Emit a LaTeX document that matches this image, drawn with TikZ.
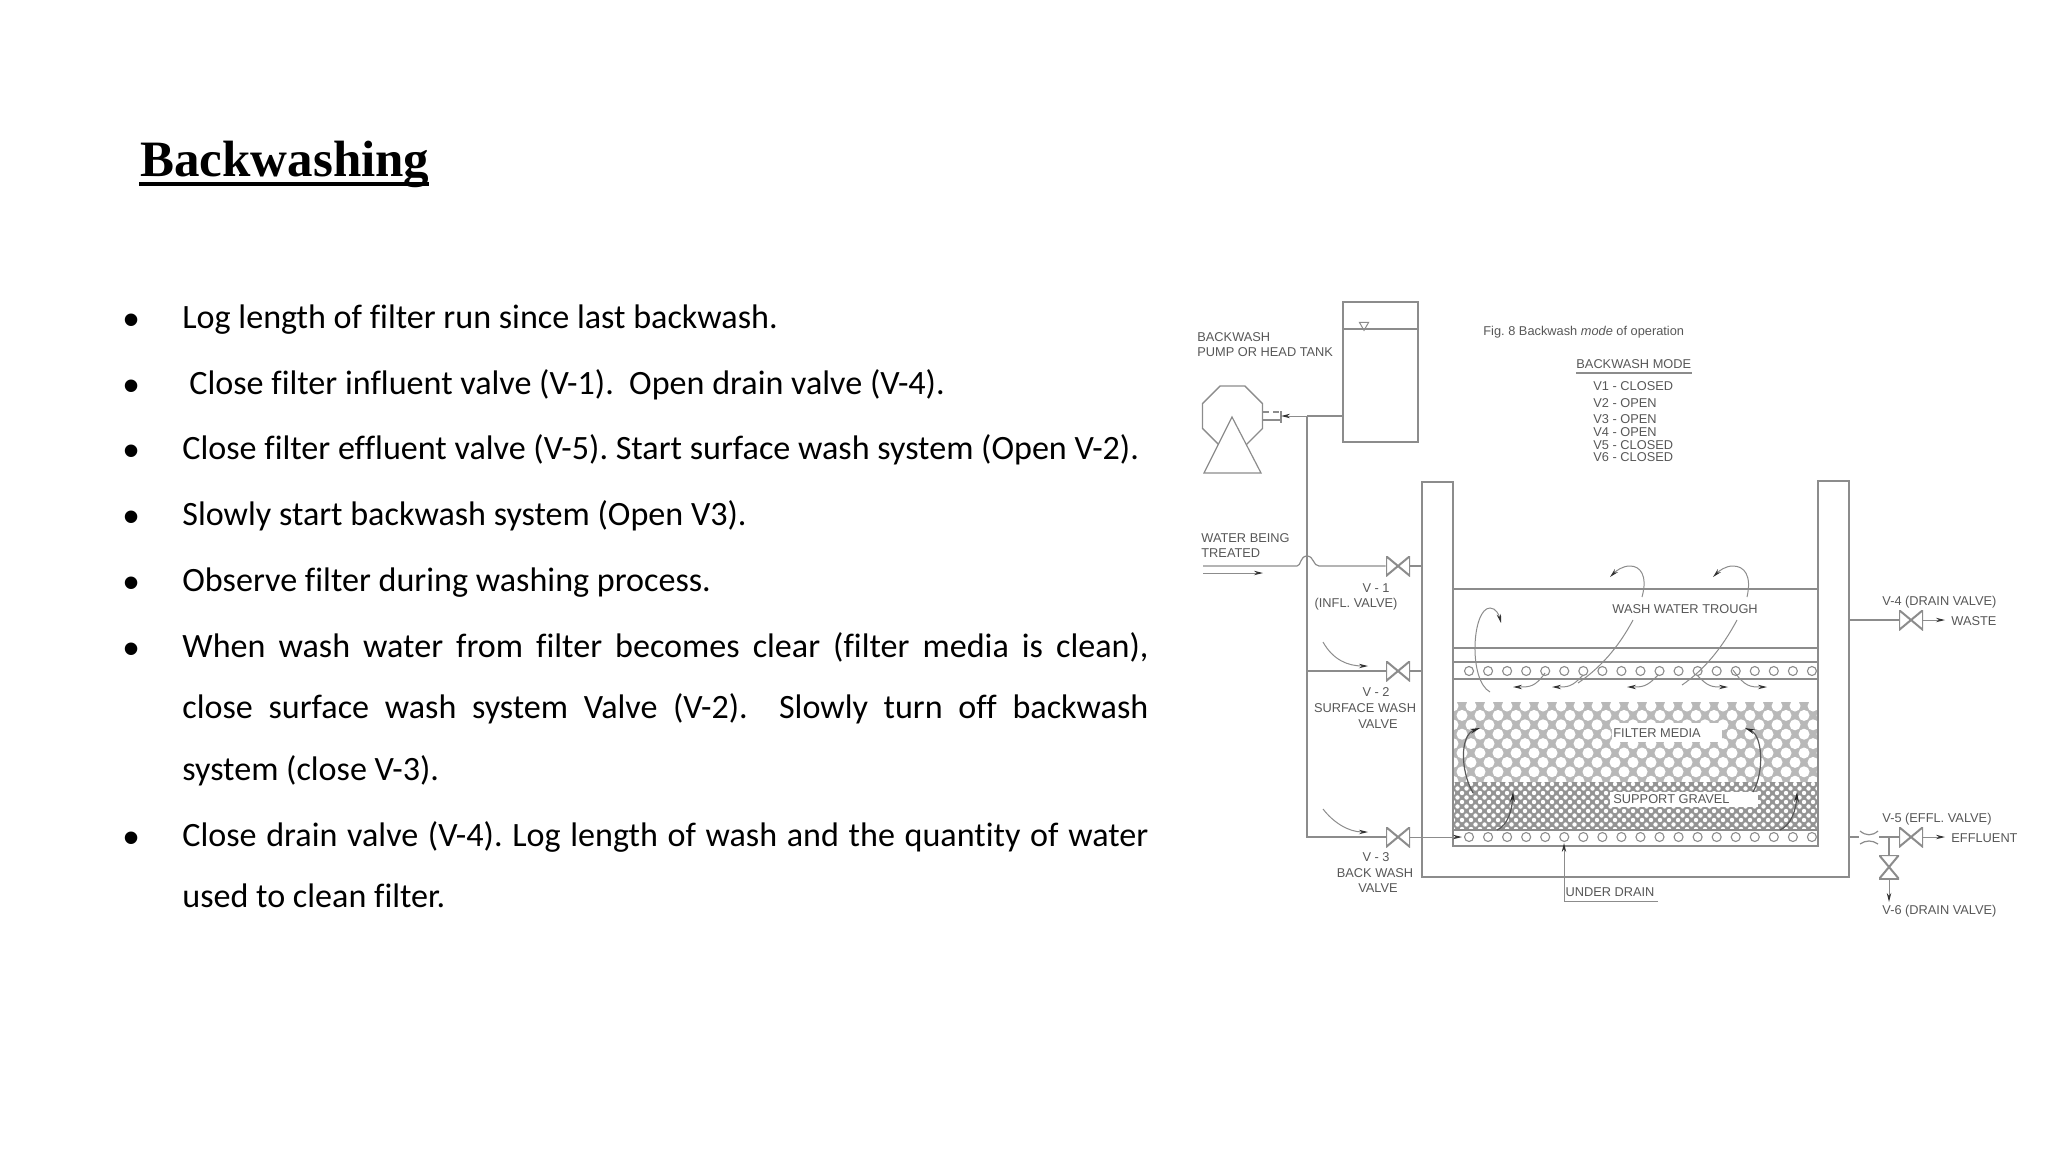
\documentclass[tikz,border=0pt]{standalone}
\usepackage{fontspec}
\setmainfont{Carlito}[Ligatures=NoCommon]
\newfontfamily\lbfont{Liberation Sans}
\newfontfamily\ttlfont{Liberation Serif}
\usetikzlibrary{arrows.meta,shapes.geometric}
\definecolor{pipe}{gray}{0.55}
\definecolor{lab}{gray}{0.34}
\frenchspacing
\hyphenpenalty=10000
\exhyphenpenalty=10000
\tikzset{
  x=0.5pt,y=-0.5pt,
  body/.style={anchor=base west,inner sep=0pt,font=\fontsize{17.05}{30.7}\selectfont},
  bul/.style={anchor=base,inner sep=0pt,font=\lbfont\fontsize{23}{23}\selectfont},
  lbl/.style={inner sep=0pt,text=lab,font=\lbfont\fontsize{6.4}{7}\selectfont},
  lw/.style={lbl,anchor=west},
  pp/.style={draw=pipe,line width=0.6pt},
  flow/.style={draw=pipe,line width=0.5pt,-{Stealth[length=4.5pt,width=2.2pt,color=black!80]}},
  media flow/.style={draw=black!65,line width=0.6pt,-{Stealth[length=5pt,width=2.4pt,color=black!85]}},
  plain flow/.style={draw=pipe,line width=0.5pt},
  valveh/.style={inner sep=0pt,minimum width=12pt,minimum height=10pt,
    path picture={\draw[pipe,line width=1pt] (path picture bounding box.north west)--(path picture bounding box.south east)--(path picture bounding box.north east)--(path picture bounding box.south west)--cycle;}},
  valvev/.style={inner sep=0pt,minimum width=10pt,minimum height=12pt,
    path picture={\draw[pipe,line width=1pt] (path picture bounding box.north west)--(path picture bounding box.north east)--(path picture bounding box.south west)--(path picture bounding box.south east)--cycle;}},
  tankbox/.style={draw=pipe,line width=0.7pt,inner sep=0pt,minimum width=37.5pt,minimum height=70pt},
  pumpshape/.style={draw=pipe,line width=0.7pt,regular polygon,regular polygon sides=8,inner sep=0pt,minimum size=32.5pt},
  ring/.style={draw=pipe,fill=white,line width=0.55pt},
}
\begin{document}
\begin{tikzpicture}
\useasboundingbox (0,0) rectangle (2048,1152);
% ---------- title and bullets
\node[anchor=base west,inner sep=0pt,font=\ttlfont\bfseries\fontsize{25.5}{28}\selectfont] (title) at (140,176) {Backwashing};
\draw[line width=2pt] (139,184) -- (429,184);
\node[bul] (b1) at (132,335) {•};
\node[bul] (b2) at (132,401) {•};
\node[bul] (b3) at (132,466) {•};
\node[bul] (b4) at (132,532) {•};
\node[bul] (b5) at (132,598) {•};
\node[bul] (b6) at (132,664) {•};
\node[bul] (b7) at (132,853) {•};
\node[body] (t1) at (182,328.5) {Log length of filter run since last backwash.};
\node[body] (t2) at (189,394.5) {Close filter influent valve (V-1).\ \ Open drain valve (V-4).};
\node[body] (t3) at (182,459.5) {Close filter effluent valve (V-5). Start surface wash system (Open V-2).};
\node[body] (t4) at (182,525.5) {Slowly start backwash system (Open V3).};
\node[body] (t5) at (182,591.5) {Observe filter during washing process.};
\node[body] (t6) at (182,657.5) {\parbox[t]{483pt}{\fontsize{17.05}{30.7}\selectfont When wash water from filter becomes clear (filter media is clean), close surface wash system Valve (V-2).\ \ Slowly turn off backwash\linebreak system (close V-3).\par}};
\node[body] (t7) at (182,846.5) {\parbox[t]{483pt}{\fontsize{17.05}{30.7}\selectfont Close drain valve (V-4). Log length of wash and the quantity of water used to clean filter.\par}};
% ---------- media
\fill[black!28] (1453,702) rectangle (1818,782);
\begin{scope}
\clip (1453,702) rectangle (1818,782);
\foreach \r in {0,...,9}{
  \pgfmathsetmacro{\off}{mod(\r,2)*9}
  \foreach \c in {0,...,21}{
    \fill[white] ({1453+\off+18*\c},{706+9.4*\r}) circle[radius=2.75pt];
  }
}
\end{scope}
\fill[black!42] (1453,782) rectangle (1818,830);
\begin{scope}
\clip (1453,782) rectangle (1818,830);
\foreach \r in {0,...,11}{
  \pgfmathsetmacro{\off}{mod(\r,2)*4.5}
  \foreach \c in {0,...,41}{
    \fill[white] ({1453+\off+9*\c},{784+4.5*\r}) circle[radius=1.1pt];
  }
}
\end{scope}
\fill[white] (1612,723) rectangle (1722,742);
\fill[white] (1610,792) rectangle (1758,807);
\node[lw] (fm) at (1613,733) {FILTER MEDIA};
\node[lw] (sg) at (1613,799) {SUPPORT GRAVEL};
% ---------- basin
\draw[pp] (1422,877)--(1422,482)--(1453,482)--(1453,846)--(1818,846)--(1818,481)--(1849,481)--(1849,877)--cycle;
\draw[pp] (1453,589)--(1818,589);
\draw[pp] (1453,648)--(1818,648);
\draw[pp] (1453,662)--(1818,662);
\draw[pp] (1453,679)--(1818,679);
\draw[pp] (1453,830)--(1818,830);
\foreach \k in {0,...,18}{
  \draw[ring] ({1469+19.05*\k},671) circle[radius=2.25pt];
  \draw[ring] ({1469+19.05*\k},837) circle[radius=2.25pt];
}
% ---------- tank and pump
\node[tankbox] (tank) at (1380.5,372) {};
\draw[pp] (tank.west |- 0,329) -- (tank.east |- 0,329);
\node[draw=pipe,line width=0.5pt,isosceles triangle,isosceles triangle apex angle=60,shape border rotate=-90,inner sep=0pt,minimum size=4pt] (lvl) at (1364,325) {};
\node[pumpshape] (pump) at (1232.5,416) {};
\draw[pp,fill=white] (1232,417)--(1261,473)--(1204,473)--cycle;
\coordinate (jA) at (1307,416);
\coordinate (tk) at (1281,416);
\coordinate (tkT) at (1281,411);
\coordinate (tkB) at (1281,423);
\draw[pp,densely dashed] (pump.east |- 0,412) -- (tkT |- 0,412);
\draw[pp] (pump.east |- 0,420) -- (tkB |- 0,420);
\draw[pp,line width=1pt] (tkT) -- (tkB);
\draw[flow] (jA) -- (tk);
\draw[pp] (jA) -- (tank.west |- jA);
% ---------- valves on the left
\node[valveh] (v1) at (1398,566) {};
\node[valveh] (v2) at (1398,671) {};
\node[valveh] (v3) at (1398,837) {};
\coordinate (jB) at (1307,671);
\coordinate (jC) at (1307,837);
\coordinate (inA) at (1203,566);
\coordinate (inB) at (1203,573);
\coordinate (inC) at (1263,573);
\coordinate (hA) at (1297,566);
\coordinate (hB) at (1319,566);
\coordinate (w1) at (1422,566);
\coordinate (w2) at (1422,671);
\coordinate (ud) at (1462,837);
\draw[pp] (jA) -- (jC) -- (v3.west);
\draw[pp] (jB) -- (v2.west);
\draw[pp] (v2.east) -- (w2);
\draw[flow] (v3.east) -- (ud);
\draw[pp] (inA) -- (hA) .. controls (1301,566) and (1300,556) .. (1307,556) .. controls (1314,556) and (1313,566) .. (hB) -- (v1.west);
\draw[pp] (v1.east) -- (w1);
\draw[flow] (inB) -- (inC);
\draw[flow] (1323,642) .. controls (1333,660) and (1348,666) .. (1368,666);
\draw[flow] (1323,809) .. controls (1333,822) and (1348,832) .. (1368,832);
% ---------- under drain
\coordinate (dA) at (1564,901);
\coordinate (dB) at (1564,843);
\coordinate (dC) at (1658,901);
\draw[flow] (dC) -- (dA) -- (dB);
\node[lbl] (udl) at (1610,892) {UNDER DRAIN};
% ---------- valves on the right
\node[valveh] (v4) at (1911,620) {};
\node[valveh] (v5) at (1911,837) {};
\node[valvev] (v6) at (1889,867) {};
\coordinate (oA) at (1849,620);
\coordinate (oB) at (1945,620);
\coordinate (oC) at (1849,837);
\coordinate (oD) at (1859,837);
\coordinate (oE) at (1879,837);
\coordinate (oF) at (1945,837);
\coordinate (jD) at (1889,837);
\coordinate (oG) at (1889,902);
\draw[pp] (oA) -- (v4.west);
\draw[flow] (v4.east) -- (oB);
\draw[pp] (oC) -- (oD);
\draw[pp] (oE) -- (v5.west);
\draw[flow] (v5.east) -- (oF);
\draw[pp] (jD) -- (v6.north);
\draw[flow] (v6.south) -- (oG);
\draw[pp] (1860,831) .. controls (1866,836) and (1872,836) .. (1878,831);
\draw[pp] (1860,844) .. controls (1866,840) and (1872,840) .. (1878,844);
% ---------- flow arrows
\draw[flow] (1642,597) .. controls (1648,575) and (1640,566) .. (1630,566) .. controls (1622,566) and (1616,571) .. (1610,577);
\draw[flow] (1747,597) .. controls (1752,575) and (1744,566) .. (1733,566) .. controls (1725,566) and (1719,571) .. (1713,577);
\draw[plain flow] (1578,683) .. controls (1600,668) and (1618,648) .. (1633,620);
\draw[plain flow] (1682,685) .. controls (1704,670) and (1722,648) .. (1737,620);
\draw[flow] (1490,692) .. controls (1468,680) and (1472,608) .. (1490,608) .. controls (1496,608) and (1499,615) .. (1501,623);
\draw[flow] (1545,673) .. controls (1535,687) and (1530,687) .. (1513,687);
\draw[flow] (1583,675) .. controls (1572,687) and (1568,687) .. (1552,687);
\draw[flow] (1658,675) .. controls (1647,687) and (1642,687) .. (1627,687);
\draw[flow] (1697,675) .. controls (1708,687) and (1712,687) .. (1728,687);
\draw[flow] (1733,670) .. controls (1745,687) and (1750,687) .. (1767,687);
\draw[media flow] (1473,793) .. controls (1460,770) and (1460,735) .. (1480,728);
\draw[media flow] (1497,830) .. controls (1508,825) and (1512,810) .. (1513,792);
\draw[media flow] (1753,792) .. controls (1765,770) and (1762,735) .. (1745,728);
\draw[media flow] (1780,830) .. controls (1791,825) and (1796,810) .. (1797,792);
% ---------- labels
\node[lw] (l1) at (1197,337) {BACKWASH};
\node[lw] (l2) at (1197,352) {PUMP OR HEAD TANK};
\node[lw] (l3) at (1201,538) {WATER BEING};
\node[lw] (l4) at (1201,553) {TREATED};
\node[lbl] (l5) at (1376,588) {V - 1};
\node[lbl] (l6) at (1356,604) {(INFL. VALVE)};
\node[lbl] (l7) at (1376,692) {V - 2};
\node[lbl] (l8) at (1365,708) {SURFACE WASH};
\node[lbl] (l9) at (1378,724) {VALVE};
\node[lbl] (l10) at (1376,857) {V - 3};
\node[lbl] (l11) at (1375,873) {BACK WASH};
\node[lbl] (l12) at (1378,888) {VALVE};
\node[lw] (l13) at (1483,332) {Fig. 8 Backwash \textit{mode} of operation};
\node[lw] (l14) at (1576,364) {BACKWASH MODE};
\draw[draw=pipe,line width=0.6pt] (l14.west |- 0,373) -- (l14.east |- 0,373);
\node[lw] (m1) at (1593,386) {V1 - CLOSED};
\node[lw] (m2) at (1593,403) {V2 - OPEN};
\node[lw] (m3) at (1593,419) {V3 - OPEN};
\node[lw] (m4) at (1593,432) {V4 - OPEN};
\node[lw] (m5) at (1593,445) {V5 - CLOSED};
\node[lw] (m6) at (1593,457) {V6 - CLOSED};
\node[lw] (tr) at (1612,609) {WASH WATER TROUGH};
\node[lw] (r1) at (1882,602) {V-4 (DRAIN VALVE)};
\node[lw] (r2) at (1951,621) {WASTE};
\node[lw] (r3) at (1882,819) {V-5 (EFFL. VALVE)};
\node[lw] (r4) at (1951,838) {EFFLUENT};
\node[lw] (r5) at (1882,911) {V-6 (DRAIN VALVE)};
\end{tikzpicture}
\end{document}
